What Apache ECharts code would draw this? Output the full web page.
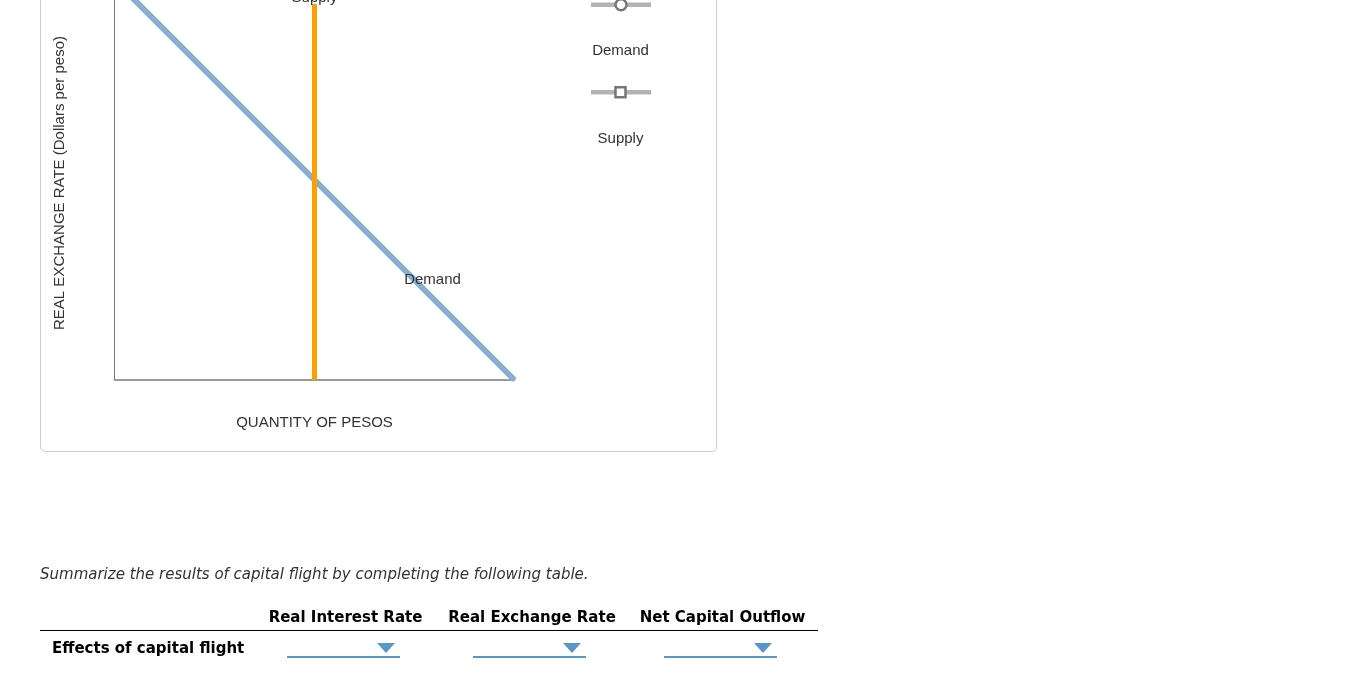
<!DOCTYPE html>
<html>
<head>
<meta charset="utf-8">
<style>
html,body{margin:0;padding:0;background:#fff;overflow:hidden;height:677px;}
#chart{position:absolute;left:0;top:-20px;width:1346px;height:697px;}
</style>
<script src="https://cdn.jsdelivr.net/npm/echarts@6/dist/echarts.min.js"></script>
</head>
<body>
<div id="chart"></div>
<script>
var demandX=[0,100];
var demandY=[100,0];
var supplyX=[50,50];
var supplyY=[0,94];
var curveNames=['Demand','Supply'];
var curveLabelX=[79.5,50];
var curveLabelY=[25,95.6];
var xAxisName='QUANTITY OF PESOS';
var yAxisName='REAL EXCHANGE RATE (Dollars per peso)';
var tableIntro='Summarize the results of capital flight by completing the following table.';
var tableColumns=['Real Interest Rate','Real Exchange Rate','Net Capital Outflow'];
var tableRow='Effects of capital flight';

function pairs(xs,ys){
	var out=[];
	for(var i=0;i<xs.length;i++){
		out.push([xs[i],ys[i]]);
	}
	return out;
}

var arial='"Liberation Sans", Arial, sans-serif';
var verdana='"DejaVu Sans", Verdana, sans-serif';
var graphics=[];

// card around the plot, its top is above the page
graphics.push({type:'rect',z:0,shape:{x:40.5,y:-40.5,width:676,height:492,r:5},style:{fill:'#fff',stroke:'#ccc',lineWidth:1}});

// legend on the right
function legendRow(y,labelY,name,square){
	graphics.push({type:'line',z:5,shape:{x1:591,y1:y,x2:651,y2:y},style:{stroke:'#b3b3b3',lineWidth:4.5}});
	if(square){
		graphics.push({type:'rect',z:6,shape:{x:615.5,y:y-5,width:10,height:10},style:{fill:'#fff',stroke:'#777',lineWidth:2.5}});
	}else{
		graphics.push({type:'circle',z:6,shape:{cx:621,cy:y,r:5.5},style:{fill:'#fff',stroke:'#777',lineWidth:2.5}});
	}
	graphics.push({type:'text',z:6,x:620.5,y:labelY,style:{text:name,fill:'#333',font:'15px '+arial,textAlign:'center',textVerticalAlign:'middle'}});
}
legendRow(4.7,51,curveNames[0],false);
legendRow(92.3,139,curveNames[1],true);

// table under the chart
graphics.push({type:'text',x:40,y:575,style:{text:tableIntro,fill:'#333',font:'italic 15px '+verdana,textVerticalAlign:'middle'}});
var columnCenters=[345.5,532,722.5];
var dropLeft=[287,473,664];
for(var i=0;i<tableColumns.length;i++){
	graphics.push({type:'text',x:columnCenters[i],y:618,style:{text:tableColumns[i],fill:'#000',font:'bold 15px '+verdana,textAlign:'center',textVerticalAlign:'middle'}});
	graphics.push({type:'line',shape:{x1:dropLeft[i],y1:657,x2:dropLeft[i]+113,y2:657},style:{stroke:'#5a96c8',lineWidth:2}});
	graphics.push({type:'polygon',shape:{points:[[dropLeft[i]+90,643],[dropLeft[i]+108,643],[dropLeft[i]+99,653]]},style:{fill:'#5a96c8'}});
}
graphics.push({type:'line',shape:{x1:40,y1:630.5,x2:818,y2:630.5},style:{stroke:'#000',lineWidth:1}});
graphics.push({type:'text',x:52,y:649,style:{text:tableRow,fill:'#000',font:'bold 15px '+verdana,textVerticalAlign:'middle'}});

var chart=echarts.init(document.getElementById('chart'));
var option={
	animation:false,
	backgroundColor:'#fff',
	grid:{left:114.5,top:0,width:400,height:400},
	// page is shifted up 20px so the plot top gets cut off, the overlay is in page coordinates
	graphic:[{type:'group',x:0,y:20,children:graphics}],
	xAxis:{
		type:'value',min:0,max:100,
		name:xAxisName,nameLocation:'middle',nameGap:35,
		nameTextStyle:{color:'#333',fontFamily:arial,fontSize:15},
		axisLine:{lineStyle:{color:'#999',width:2}},
		axisTick:{show:false},axisLabel:{show:false},splitLine:{show:false}
	},
	yAxis:{
		type:'value',min:0,max:100,
		name:yAxisName,nameLocation:'middle',nameGap:47,
		nameTextStyle:{color:'#333',fontFamily:arial,fontSize:15,padding:[0,6,0,0]},
		axisLine:{lineStyle:{color:'#777',width:1}},
		axisTick:{show:false},axisLabel:{show:false},splitLine:{show:false}
	},
	series:[
		{name:curveNames[0],type:'line',data:pairs(demandX,demandY),symbol:'none',clip:false,z:3,
			lineStyle:{color:'#88afd3',width:6}},
		{name:curveNames[1],type:'line',data:pairs(supplyX,supplyY),symbol:'none',clip:false,z:4,
			lineStyle:{color:'#ff9e00',width:5}},
		{type:'scatter',symbolSize:0,silent:true,clip:false,z:5,
			itemStyle:{opacity:1},
			data:[
				{name:curveNames[0],value:[curveLabelX[0],curveLabelY[0]]},
				{name:curveNames[1],value:[curveLabelX[1],curveLabelY[1]]}
			],
			label:{show:true,position:'inside',formatter:'{b}',color:'#333',fontFamily:arial,fontSize:15}}
	]
};
chart.setOption(option);
</script>
</body>
</html>
